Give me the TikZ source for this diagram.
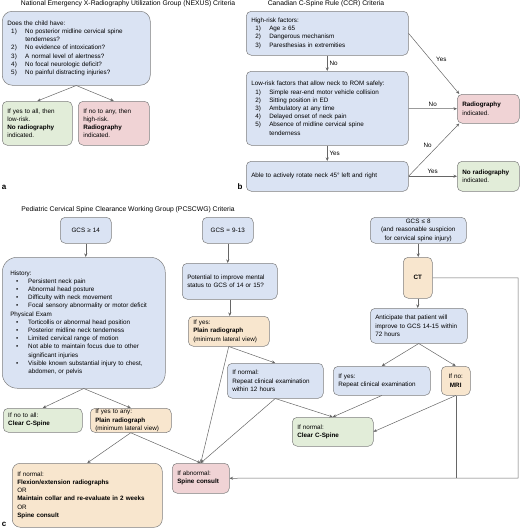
\documentclass[tikz,border=0pt]{standalone}
\usepackage{fontspec}
\setmainfont{Liberation Sans}
\usetikzlibrary{arrows.meta}
\definecolor{boxline}{HTML}{7F7F7F}
\definecolor{lineclr}{HTML}{666666}
\definecolor{blueclr}{HTML}{DAE3F3}
\definecolor{greenclr}{HTML}{E2EDD9}
\definecolor{tanclr}{HTML}{F8E6CE}
\definecolor{redclr}{HTML}{F0D3D5}
\newcommand{\numitem}[2]{\hspace*{4pt}\makebox[14pt][l]{#1}#2}
\newcommand{\contline}[1]{\hspace*{18pt}#1}
\newcommand{\bulitem}[1]{\hspace*{9pt}\makebox[12pt][l]{\textbullet}#1}
\newcommand{\bulcont}[1]{\hspace*{21pt}#1}

\begin{document}
\begin{tikzpicture}[x=1pt, y=-1pt, font=\fontsize{6.8}{8.2}\selectfont,
    box/.style={draw=boxline, line width=0.5pt, rounded corners=5pt, anchor=north west,
      align=left, inner xsep=5pt, inner ysep=1pt, font=\fontsize{6.3}{8.2}\selectfont},
    wh/.style 2 args={minimum width=#1pt, minimum height=#2pt,
      /utils/exec={\pgfmathsetmacro\boxtw{#1-10}}, text width=\boxtw pt},
    bluebox/.style={box, fill=blueclr},
    greenbox/.style={box, fill=greenclr},
    tanbox/.style={box, fill=tanclr},
    redbox/.style={box, fill=redclr},
    title/.style={inner sep=0pt},
    panel/.style={font=\fontsize{8}{8}\selectfont\bfseries, inner sep=0pt},
    arrow/.style={draw=lineclr, line width=0.5pt, -{Stealth[length=3.5pt,width=3pt]}},
    plain line/.style={draw=lineclr, line width=0.5pt},
    lbl/.style={font=\fontsize{6.3}{7}\selectfont, inner sep=2pt}]
  \useasboundingbox (0,0) rectangle (520,528);

  % (a) NEXUS
  \node[title] (nexustitle) at (128,4) {National Emergency X-Radiography Utilization Group (NEXUS) Criteria};
  \node[bluebox, wh={148}{74}, rounded corners=10pt] (nexus) at (2,11) {Does the child have:\\
    \numitem{1)}{No posterior midline cervical spine}\\
    \contline{tenderness?}\\
    \numitem{2)}{No evidence of intoxication?}\\
    \numitem{3)}{A normal level of alertness?}\\
    \numitem{4)}{No focal neurologic deficit?}\\
    \numitem{5)}{No painful distracting injuries?}};
  \node[greenbox, wh={70}{44}] (nexyes) at (2,101) {If yes to all, then\\low-risk.\\\textbf{No radiography}\\indicated.};
  \node[redbox, wh={71}{44}] (nexno) at (78,101) {If no to any, then\\high-risk.\\\textbf{Radiography}\\indicated.};
  \draw[arrow] (nexus.south) -- (nexyes.north);
  \draw[arrow] (nexus.south) -- (nexno.north);
  \node[panel] (pa) at (4,187) {a};

  % (b) CCR
  \node[title] (ccrtitle) at (326,4) {Canadian C-Spine Rule (CCR) Criteria};
  \node[bluebox, wh={162}{44}] (highrisk) at (246,11) {High-risk factors:\\
    \numitem{1)}{Age ≥ 65}\\
    \numitem{2)}{Dangerous mechanism}\\
    \numitem{3)}{Paresthesias in extremities}};
  \node[bluebox, wh={162}{74}] (lowrisk) at (246,71) {Low-risk factors that allow neck to ROM safely:\\
    \numitem{1)}{Simple rear-end motor vehicle collision}\\
    \numitem{2)}{Sitting position in ED}\\
    \numitem{3)}{Ambulatory at any time}\\
    \numitem{4)}{Delayed onset of neck pain}\\
    \numitem{5)}{Absence of midline cervical spine}\\
    \contline{tenderness}};
  \node[bluebox, wh={162}{30}] (rotate) at (246,161) {Able to actively rotate neck 45° left and right};
  \node[redbox, wh={62}{29}] (ccrrad) at (457,94) {\textbf{Radiography}\\indicated.};
  \node[greenbox, wh={62}{30}] (ccrnorad) at (457,161) {\textbf{No radiography}\\indicated.};
  \draw[arrow] (highrisk.south) -- node[lbl, right] {No} (lowrisk.north);
  \draw[arrow] (lowrisk.south) -- node[lbl, right] {Yes} (rotate.north);
  \draw[arrow] (highrisk.east) -- node[lbl, above right] {Yes} (ccrrad.153);
  \draw[arrow] (lowrisk.east) -- node[lbl, above] {No} (ccrrad.west);
  \draw[arrow] (rotate.east) -- node[lbl, above left] {No} (ccrrad.207);
  \draw[arrow] (rotate.east) -- node[lbl, above] {Yes} (ccrnorad.west);
  \node[panel] (pb) at (240,187) {b};

  % (c) PCSCWG
  \node[title] (pctitle) at (128,210) {Pediatric Cervical Spine Clearance Working Group (PCSCWG) Criteria};
  \node[bluebox, wh={51}{26}, align=center] (gcs14) at (60,217) {GCS ≥ 14};
  \node[bluebox, wh={51}{26}, align=center] (gcs913) at (202,217) {GCS = 9-13};
  \node[bluebox, wh={96}{26}, align=center] (gcs8) at (370,217) {GCS ≤ 8\\(and reasonable suspicion\\for cervical spine injury)};

  \node[bluebox, wh={163}{131}, rounded corners=15pt] (history) at (2,257) {\hspace*{3pt}History:\\
    \bulitem{Persistent neck pain}\\
    \bulitem{Abnormal head posture}\\
    \bulitem{Difficulty with neck movement}\\
    \bulitem{Focal sensory abnormality or motor deficit}\\
    \hspace*{3pt}Physical Exam\\
    \bulitem{Torticollis or abnormal head position}\\
    \bulitem{Posterior midline neck tenderness}\\
    \bulitem{Limited cervical range of motion}\\
    \bulitem{Not able to maintain focus due to other}\\
    \bulcont{significant injuries}\\
    \bulitem{Visible known substantial injury to chest,}\\
    \bulcont{abdomen, or pelvis}};
  \node[greenbox, wh={79}{24}] (noall) at (3,408) {If no to all:\\\textbf{Clear C-Spine}};
  \node[tanbox, wh={81}{24}] (yesany) at (90,408) {If yes to any:\\\textbf{Plain radiograph}\\(minimum lateral view)};
  \node[tanbox, wh={150}{64}, rounded corners=8pt] (flex) at (12,463) {If normal:\\
    \textbf{Flexion/extension radiographs}\\OR\\
    \textbf{Maintain collar and re-evaluate in 2 weeks}\\OR\\
    \textbf{Spine consult}};
  \node[redbox, wh={57}{30}] (abnormal) at (172,463) {If abnormal:\\\textbf{Spine consult}};

  \node[bluebox, wh={95}{36}] (potential) at (182,263) {Potential to improve mental\\status to GCS of 14 or 15?};
  \node[tanbox, wh={81}{30}] (plainrad) at (188,316) {If yes:\\\textbf{Plain radiograph}\\(minimum lateral view)};
  \node[bluebox, wh={96}{35}] (repeat12) at (227,363) {If normal:\\Repeat clinical examination\\within 12 hours};
  \node[greenbox, wh={81}{29}] (clear) at (292,417) {If normal:\\\textbf{Clear C-Spine}};

  \node[tanbox, wh={29}{41}, align=center] (ct) at (403,257) {\textbf{CT}};
  \node[bluebox, wh={97}{35}] (anticipate) at (370,308) {Anticipate that patient will\\improve to GCS 14-15 within\\72 hours};
  \node[bluebox, wh={97}{29}] (repeatyes) at (333,366) {If yes:\\Repeat clinical examination};
  \node[tanbox, wh={29}{29}, align=center] (mri) at (441,366) {If no:\\\textbf{MRI}};
  \coordinate (rightturn) at (518,478);

  \draw[arrow] (gcs14.south) -- (gcs14.south |- history.north);
  \draw[arrow] (history.south) -- (noall.north);
  \draw[arrow] (history.south) -- (yesany.north);
  \draw[arrow] (yesany.south) -- (flex.north);
  \draw[arrow] (yesany.south) -- (abnormal.north);

  \draw[arrow] (gcs913.south) -- (gcs913.south |- potential.north);
  \draw[arrow] (potential.south) -- (potential.south |- plainrad.north);
  \draw[arrow] (plainrad.south) -- (repeat12.north);
  \draw[arrow] (plainrad.south) -- (abnormal.north);
  \draw[arrow] (repeat12.south) -- (abnormal.north);
  \draw[arrow] (repeat12.south) -- (clear.north);

  \draw[arrow] (gcs8.south) -- (gcs8.south |- ct.north);
  \draw[arrow] (ct.south) -- (ct.south |- anticipate.north);
  \draw[arrow] (anticipate.south) -- (repeatyes.north);
  \draw[arrow] (anticipate.south) -- (mri.north);
  \draw[arrow] (repeatyes.south) -- (clear.north);
  \draw[arrow] (mri.south) -- (clear.east);
  \draw[plain line] (mri.south) -- (mri.south |- rightturn);
  \draw[arrow] (ct.east) -| (rightturn) -- (abnormal.east);
  \node[panel] (pc) at (4,524) {c};
\end{tikzpicture}
\end{document}
